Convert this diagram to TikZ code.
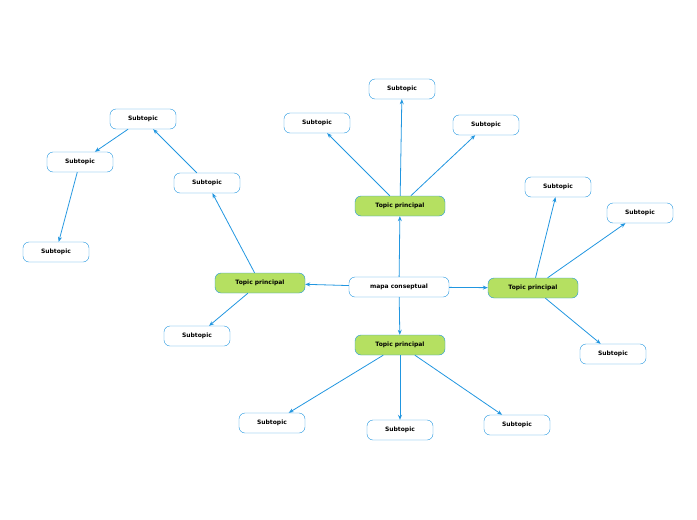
\documentclass[tikz,border=0pt]{standalone}
\usepackage{fontspec}
\setmainfont{DejaVu Sans}
\usetikzlibrary{arrows.meta}
\definecolor{edge}{HTML}{2196E0}
\definecolor{tpg}{HTML}{B5E061}
\tikzset{
 box/.style={draw=edge,rounded corners=6pt,minimum height=20pt,font=\fontsize{6}{7}\selectfont\bfseries,inner sep=1pt},
 sub/.style={box,fill=white,minimum width=66pt},
 tp/.style={box,fill=tpg,minimum width=90pt},
 cen/.style={box,fill=white,minimum width=100pt},
 con/.style={draw=edge,line width=0.8pt,-{Stealth[length=5pt,width=4pt]}}
}
\begin{document}
\begin{tikzpicture}[x=1pt,y=-1pt]
\useasboundingbox (0,0) rectangle (697,520);
\node[cen] (c) at (399,287) {mapa conseptual};
\node[tp] (t) at (400,206) {Topic principal};
\node[tp] (l) at (260,283) {Topic principal};
\node[tp] (r) at (533,288) {Topic principal};
\node[tp] (b) at (400,345) {Topic principal};
\node[sub] (t1) at (402,89) {Subtopic};
\node[sub] (t2) at (317,123) {Subtopic};
\node[sub] (t3) at (486,125) {Subtopic};
\node[sub] (r1) at (558,187) {Subtopic};
\node[sub] (r2) at (640,213) {Subtopic};
\node[sub] (r3) at (613,354) {Subtopic};
\node[sub] (b1) at (272,423) {Subtopic};
\node[sub] (b2) at (400,430) {Subtopic};
\node[sub] (b3) at (517,425) {Subtopic};
\node[sub] (l1) at (197,336) {Subtopic};
\node[sub] (l2) at (207,183) {Subtopic};
\node[sub] (l3) at (143,119) {Subtopic};
\node[sub] (l4) at (80,162) {Subtopic};
\node[sub] (l5) at (56,252) {Subtopic};
\draw[con] (c) -- (t);
\draw[con] (c) -- (l);
\draw[con] (c) -- (r);
\draw[con] (c) -- (b);
\draw[con] (t) -- (t1);
\draw[con] (t) -- (t2);
\draw[con] (t) -- (t3);
\draw[con] (r) -- (r1);
\draw[con] (r) -- (r2);
\draw[con] (r) -- (r3);
\draw[con] (b) -- (b1);
\draw[con] (b) -- (b2);
\draw[con] (b) -- (b3);
\draw[con] (l) -- (l1);
\draw[con] (l) -- (l2);
\draw[con] (l2) -- (l3);
\draw[con] (l3) -- (l4);
\draw[con] (l4) -- (l5);
\end{tikzpicture}
\end{document}
